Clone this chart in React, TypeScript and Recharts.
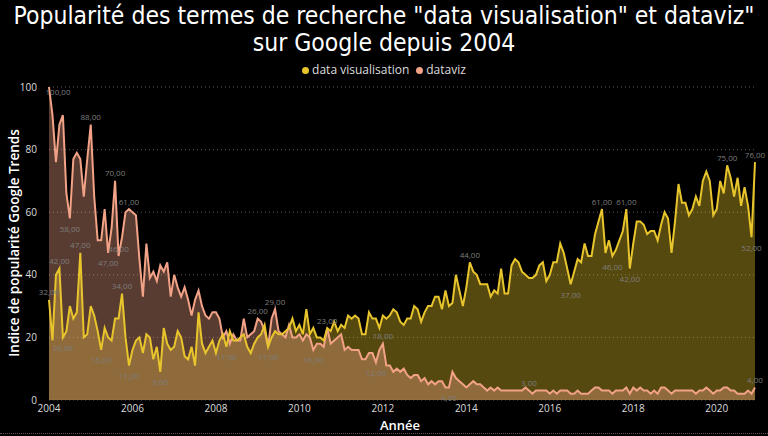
import React from "react";
import {
  ComposedChart,
  Area,
  Line,
  XAxis,
  YAxis,
  CartesianGrid,
  LabelList,
} from "recharts";

// Google Trends, monthly index, Jan 2004 -> Dec 2020 (one row per year)
const dataVisualisation = [
  32, 19, 40, 42, 20, 22, 30, 26, 28, 47, 20, 21,
  30, 27, 22, 16, 23, 20, 19, 26, 26, 34, 20, 11,
  16, 19, 20, 15, 21, 20, 13, 17, 9, 23, 18, 16,
  17, 22, 20, 14, 13, 17, 11, 28, 18, 15, 17, 19,
  15, 19, 21, 17, 22, 19, 19, 20, 21, 17, 15, 18,
  20, 21, 24, 17, 20, 22, 21, 21, 22, 23, 26, 22,
  24, 21, 29, 21, 23, 20, 20, 19, 23, 22, 25, 22,
  24, 23, 27, 26, 27, 26, 21, 21, 28, 26, 26, 23,
  27, 26, 27, 29, 28, 25, 24, 26, 26, 30, 29, 25,
  28, 30, 30, 33, 33, 29, 35, 30, 31, 40, 35, 30,
  36, 44, 41, 40, 37, 37, 37, 33, 35, 34, 42, 34,
  34, 43, 45, 44, 41, 40, 39, 39, 40, 43, 44, 38,
  40, 44, 44, 50, 47, 42, 37, 41, 45, 44, 50, 46,
  46, 53, 57, 61, 47, 51, 46, 48, 51, 54, 61, 42,
  50, 57, 57, 56, 53, 54, 54, 51, 56, 60, 58, 47,
  57, 69, 63, 63, 59, 61, 65, 62, 70, 73, 70, 59,
  61, 70, 66, 75, 71, 65, 71, 62, 68, 62, 52, 76,
];

const dataviz = [
  100, 91, 76, 88, 91, 66, 58, 77, 79, 77, 65, 77,
  88, 65, 51, 51, 61, 47, 55, 70, 46, 52, 60, 61,
  60, 59, 45, 33, 50, 39, 41, 38, 43, 41, 44, 33,
  40, 36, 33, 36, 32, 27, 32, 35, 30, 27, 26, 28,
  28, 26, 20, 22, 18, 21, 19, 19, 26, 20, 21, 22,
  26, 25, 22, 17, 26, 29, 22, 21, 20, 24, 20, 20,
  21, 19, 21, 20, 16, 18, 18, 17, 23, 18, 19, 20,
  21, 16, 17, 16, 16, 16, 13, 13, 15, 15, 12, 16,
  18, 11, 11, 9, 10, 9, 10, 8, 7, 8, 8, 6,
  7, 5, 6, 5, 6, 6, 4, 4, 9, 7, 6, 5,
  4, 5, 6, 5, 5, 4, 3, 4, 3, 4, 3, 3,
  3, 3, 3, 3, 3, 4, 3, 2, 3, 3, 3, 3,
  2, 3, 2, 3, 3, 3, 2, 2, 3, 2, 2, 2,
  3, 4, 4, 3, 3, 3, 2, 3, 3, 3, 4, 2,
  4, 3, 4, 3, 3, 2, 3, 2, 4, 4, 3, 2,
  3, 3, 3, 3, 3, 3, 2, 3, 3, 4, 3, 2,
  3, 3, 4, 4, 3, 3, 2, 2, 2, 3, 2, 4,
];

const yearTicks = [2004, 2006, 2008, 2010, 2012, 2014, 2016, 2018, 2020];
const valueTicks = [0, 20, 40, 60, 80, 100];

// months that carry a data label in the original report
const visLabels: Record<number, string> = {
  0: "up", 3: "up", 4: "down", 9: "up", 15: "down", 21: "up", 23: "down",
  32: "down", 51: "down", 63: "down", 80: "up", 121: "up", 150: "down",
  159: "up", 162: "down", 166: "up", 167: "down", 195: "up", 202: "down", 203: "up",
};
const vizLabels: Record<number, string> = {
  0: "right", 6: "down", 12: "up", 17: "down", 19: "up", 20: "up", 23: "up",
  60: "up", 65: "up", 76: "down", 94: "down", 96: "up", 115: "down", 138: "up", 203: "up",
};

const YELLOW = "#e8c52c";
const SALMON = "#f2a286";

const rows = dataVisualisation.map((v, i) => ({
  t: 2004 + i / 12,
  vis: v,
  viz: dataviz[i],
}));

const fmt = (v: number) => v.toFixed(2).replace(".", ",");

const pointLabel = (marks: Record<number, string>) => (props: any) => {
  const { x, y, value, index } = props;
  const pos = marks[index];
  if (!pos || x == null || y == null) return null;
  let lx = x;
  let ly = y - 8;
  if (pos === "down") ly = y + 10;
  if (pos === "right") {
    lx = x + 9;
    ly = y + 4;
  }
  return (
    <text
      x={lx}
      y={ly}
      textAnchor="middle"
      dominantBaseline="central"
      fontSize={8}
      fontFamily="'Open Sans', sans-serif"
      fill="#7d7d7d"
    >
      {fmt(Number(value))}
    </text>
  );
};

export default function App() {
  return (
    <div
      style={{
        position: "fixed",
        left: 0,
        top: 0,
        width: 768,
        height: 436,
        background: "#000",
        overflow: "hidden",
      }}
    >
      {/* title */}
      <div
        style={{
          position: "absolute",
          top: 2,
          left: 0,
          width: 768,
          textAlign: "center",
          color: "#fff",
          fontFamily: "'DejaVu Sans Condensed', 'Roboto', sans-serif",
          fontStretch: "condensed",
          fontSize: 24.5,
          lineHeight: "27px",
        }}
      >
        Popularité des termes de recherche "data visualisation" et dataviz"
        <br />
        sur Google depuis 2004
      </div>

      {/* legend */}
      <div
        style={{
          position: "absolute",
          top: 62,
          left: 0,
          width: 768,
          display: "flex",
          justifyContent: "center",
          gap: 7,
          color: "#ddd",
          fontFamily: "'Open Sans', sans-serif",
          fontSize: 12,
          lineHeight: "16px",
        }}
      >
        <span style={{ display: "flex", alignItems: "center", gap: 3 }}>
          <span style={{ width: 7, height: 7, borderRadius: 4, background: YELLOW }} />
          data visualisation
        </span>
        <span style={{ display: "flex", alignItems: "center", gap: 3 }}>
          <span style={{ width: 7, height: 7, borderRadius: 4, background: SALMON }} />
          dataviz
        </span>
      </div>

      {/* axis titles */}
      <div
        style={{
          position: "absolute",
          left: 14,
          top: 243,
          transform: "translate(-50%, -50%) rotate(-90deg)",
          whiteSpace: "nowrap",
          color: "#fff",
          fontFamily: "'Open Sans', sans-serif",
          fontWeight: 600,
          fontSize: 13.5,
        }}
      >
        Indice de popularité Google Trends
      </div>
      <div
        style={{
          position: "absolute",
          left: 0,
          top: 416,
          width: 800,
          textAlign: "center",
          color: "#fff",
          fontFamily: "'Open Sans', sans-serif",
          fontWeight: 600,
          fontSize: 13,
        }}
      >
        Année
      </div>
      <div
        style={{
          position: "absolute",
          left: 0,
          top: 433,
          width: 768,
          borderTop: "1px dotted #555",
        }}
      />

      <div style={{ position: "absolute", left: 0, top: 0 }}>
        <ComposedChart
          width={768}
          height={436}
          data={rows}
          margin={{ top: 87, right: 13, left: 0, bottom: 0 }}
        >
          <CartesianGrid
            vertical={false}
            stroke="#5a5a5a"
            strokeDasharray="1 3"
          />
          <XAxis
            dataKey="t"
            type="number"
            domain={[2004, 2004 + 203 / 12]}
            ticks={yearTicks}
            tickFormatter={(v: number) => String(Math.round(v))}
            height={36}
            axisLine={false}
            tickLine={false}
            tickSize={3}
            tick={{ fill: "#ddd", fontSize: 10, fontFamily: "'Open Sans', sans-serif" }}
          />
          <YAxis
            type="number"
            domain={[0, 100]}
            ticks={valueTicks}
            width={49}
            axisLine={false}
            tickLine={false}
            tickSize={10}
            tick={{ fill: "#ddd", fontSize: 10, fontFamily: "'Open Sans', sans-serif" }}
          />
          <Area
            type="linear"
            dataKey="vis"
            stroke="none"
            fill={YELLOW}
            fillOpacity={0.37}
            isAnimationActive={false}
          />
          <Area
            type="linear"
            dataKey="viz"
            stroke="none"
            fill={SALMON}
            fillOpacity={0.37}
            isAnimationActive={false}
          />
          <Line
            type="linear"
            dataKey="viz"
            stroke={SALMON}
            strokeWidth={2}
            dot={false}
            isAnimationActive={false}
          >
            <LabelList dataKey="viz" content={pointLabel(vizLabels)} />
          </Line>
          <Line
            type="linear"
            dataKey="vis"
            stroke={YELLOW}
            strokeWidth={2}
            dot={false}
            isAnimationActive={false}
          >
            <LabelList dataKey="vis" content={pointLabel(visLabels)} />
          </Line>
        </ComposedChart>
      </div>
    </div>
  );
}
